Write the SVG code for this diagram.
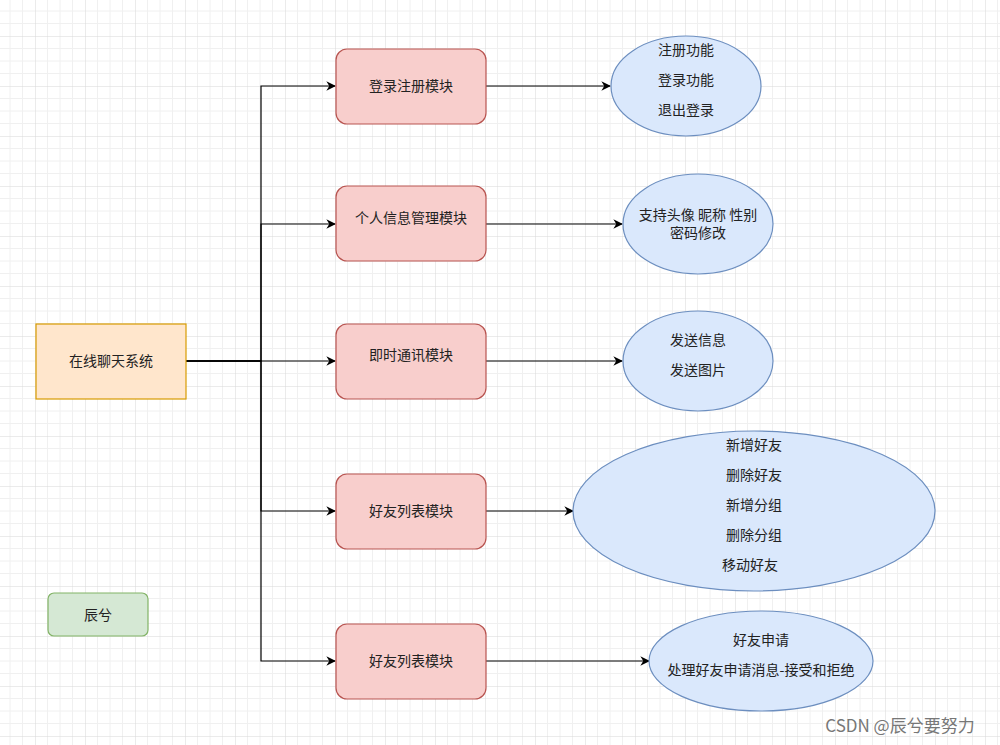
<svg xmlns="http://www.w3.org/2000/svg" width="1000" height="745" viewBox="0 0 1000 745">
<defs>
<pattern id="g" x="35" y="36" width="50" height="50" patternUnits="userSpaceOnUse">
<path d="M12.5 0V50M25 0V50M37.5 0V50M0 12.5H50M0 25H50M0 37.5H50" stroke="#f0f0f0" stroke-width="1" fill="none"/>
<path d="M0 0V50M0 0H50" stroke="#d8d8d8" stroke-width="1" fill="none"/>
</pattern>
<marker id="a" viewBox="0 0 10 10" refX="9" refY="5" markerWidth="8" markerHeight="8" orient="auto"><path d="M0 0L10 5L0 10L3 5Z" fill="#000"/></marker>
<style>
text{font-family:"Noto Sans CJK SC","Noto Sans",sans-serif;font-size:14px;fill:#222;text-anchor:middle;dominant-baseline:central}
.r{fill:#f8cecc;stroke:#b85450;stroke-width:1.2}
.e{fill:#dae8fc;stroke:#6c8ebf;stroke-width:1.2}
.c{stroke:#000;stroke-width:1.2;fill:none;marker-end:url(#a)}
</style>
</defs>
<rect width="1000" height="745" fill="#fff"/>
<rect width="1000" height="745" fill="url(#g)"/>
<g id="connectors">
<path class="c" d="M186 361H261V86H335"/>
<path class="c" d="M186 361H261V224H335"/>
<path class="c" d="M186 361H335"/>
<path class="c" d="M186 361H261V511H335"/>
<path class="c" d="M186 361H261V661H335"/>
<path class="c" d="M486 86H610"/>
<path class="c" d="M486 224H622"/>
<path class="c" d="M486 361H622"/>
<path class="c" d="M486 511H573"/>
<path class="c" d="M486 661H649"/>
</g>
<g id="root"><rect x="36" y="324" width="150" height="75" fill="#ffe6cc" stroke="#d79b00" stroke-width="1.2"/><text x="111" y="360">在线聊天系统</text></g>
<g id="m1"><rect class="r" x="336" y="49" width="150" height="75" rx="11"/><text x="411" y="85">登录注册模块</text></g>
<g id="m2"><rect class="r" x="336" y="186" width="150" height="75" rx="11"/><text x="411" y="217">个人信息管理模块</text></g>
<g id="m3"><rect class="r" x="336" y="324" width="150" height="75" rx="11"/><text x="411" y="354">即时通讯模块</text></g>
<g id="m4"><rect class="r" x="336" y="474" width="150" height="75" rx="11"/><text x="411" y="510">好友列表模块</text></g>
<g id="m5"><rect class="r" x="336" y="624" width="150" height="75" rx="11"/><text x="411" y="660">好友列表模块</text></g>
<g id="e1"><ellipse class="e" cx="686" cy="86" rx="75" ry="50"/><text x="686" y="49">注册功能</text><text x="686" y="79">登录功能</text><text x="686" y="109">退出登录</text></g>
<g id="e2"><ellipse class="e" cx="698" cy="224" rx="75" ry="50"/><text x="698" y="214">支持头像 昵称 性别</text><text x="698" y="232">密码修改</text></g>
<g id="e3"><ellipse class="e" cx="698" cy="361" rx="75" ry="50"/><text x="698" y="339">发送信息</text><text x="698" y="369">发送图片</text></g>
<g id="e4"><ellipse class="e" cx="754" cy="511" rx="181" ry="80"/><text x="754" y="444">新增好友</text><text x="754" y="474">删除好友</text><text x="754" y="504">新增分组</text><text x="754" y="534">删除分组</text><text x="750" y="564">移动好友</text></g>
<g id="e5"><ellipse class="e" cx="761" cy="661" rx="112" ry="50"/><text x="761" y="639">好友申请</text><text x="761" y="669">处理好友申请消息-接受和拒绝</text></g>
<g id="note"><rect x="48" y="593" width="100" height="43" rx="6" fill="#d5e8d4" stroke="#82b366" stroke-width="1.2"/><text x="98" y="614">辰兮</text></g>
<text x="900" y="724" style="font-size:17px;fill:#777">CSDN @辰兮要努力</text>
</svg>
